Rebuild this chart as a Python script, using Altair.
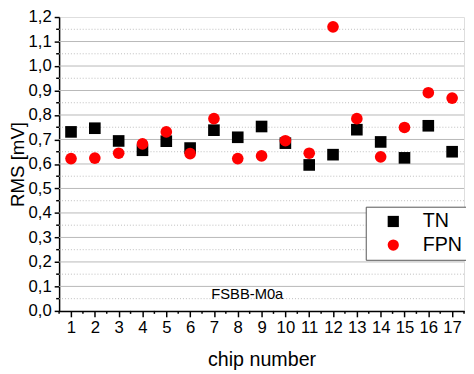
import altair as alt
import pandas as pd

chips = list(range(1, 18))
tn = [0.731, 0.746, 0.694, 0.656, 0.693, 0.665, 0.738, 0.709, 0.753, 0.685,
      0.596, 0.638, 0.740, 0.690, 0.625, 0.756, 0.650]
fpn = [0.622, 0.624, 0.644, 0.682, 0.731, 0.642, 0.785, 0.622, 0.633, 0.695,
       0.644, 1.160, 0.785, 0.629, 0.749, 0.891, 0.869]
series = ["TN", "FPN"]
x_minor = [0.5, 1.5, 2.5, 3.5, 4.5, 5.5, 6.5, 7.5, 8.5, 9.5, 10.5, 11.5, 12.5,
           13.5, 14.5, 15.5, 16.5, 17.5]
y_major = [0.0, 0.1, 0.2, 0.3, 0.4, 0.5, 0.6, 0.7, 0.8, 0.9, 1.0, 1.1, 1.2]
y_minor = [0.05, 0.15, 0.25, 0.35, 0.45, 0.55, 0.65, 0.75, 0.85, 0.95, 1.05, 1.15]
y_grid = [0.1, 0.2, 0.3, 0.4, 0.5, 0.6, 0.7, 0.8, 0.9, 1.0, 1.1]
annotation = "FSBB-M0a"

W, H = 412, 299
FONT = "Liberation Sans"

df = pd.DataFrame({
    "chip": chips + chips,
    "rms": tn + fpn,
    "series": ["TN"] * len(chips) + ["FPN"] * len(chips),
})

xscale = alt.Scale(domain=[0.5, 17.5], nice=False, zero=False)
yscale = alt.Scale(domain=[0, 1.2], nice=False)

xaxis = alt.Axis(
    values=chips, tickCount=100, format="d",
    labelOverlap=False, tickSize=6, grid=False,
    labelFontSize=17, titleFontSize=20, labelPadding=3,
    titleFontWeight="normal", titleY=56, titleBaseline="alphabetic",
    domainColor="#000", domainWidth=1.5, tickColor="#000", tickWidth=1.5,
    labelColor="#000", titleColor="#000", labelFont=FONT, titleFont=FONT,
)
yaxis = alt.Axis(
    values=y_major, tickCount=100,
    labelExpr="replace(format(datum.value, '.1f'), '.', ',')",
    labelOverlap=False, tickSize=5, grid=False,
    labelFontSize=17, titleFontSize=19, labelPadding=3,
    titleFontWeight="normal", titleX=-36, titleBaseline="alphabetic",
    domainColor="#000", domainWidth=1.5, tickColor="#000", tickWidth=1.5,
    labelColor="#000", titleColor="#000", labelFont=FONT, titleFont=FONT,
)
XT, YT = "chip number", "RMS [mV]"

grid_major = alt.Chart(pd.DataFrame({"v": y_grid})).mark_rule(
    color="#b8b8b8", strokeWidth=1
).encode(y=alt.Y("v:Q", scale=yscale, axis=yaxis, title=YT))

grid_minor = alt.Chart(pd.DataFrame({"v": y_minor})).mark_rule(
    color="#bdbdbd", strokeWidth=1, strokeDash=[1, 2]
).encode(y=alt.Y("v:Q", scale=yscale, axis=yaxis, title=YT))

ytick_minor = alt.Chart(pd.DataFrame({"v": y_minor})).mark_rule(
    color="#000", strokeWidth=1.5
).encode(y=alt.Y("v:Q", scale=yscale, axis=yaxis, title=YT),
         x=alt.value(0), x2=alt.value(-3))

xtick_minor = alt.Chart(pd.DataFrame({"v": x_minor})).mark_rule(
    color="#000", strokeWidth=1.5
).encode(x=alt.X("v:Q", scale=xscale, axis=xaxis, title=XT),
         y=alt.value(H), y2=alt.value(H + 3))

legend = alt.Legend(
    title=None, orient="none", legendX=312, legendY=193,
    fillColor="white", strokeColor="#555", padding=5,
    symbolOffset=13, labelOffset=20, labelFontSize=20,
    symbolSize=130, rowPadding=4, labelFont=FONT, labelColor="#000",
)

points = alt.Chart(df).mark_point(filled=True, opacity=1, size=140).encode(
    x=alt.X("chip:Q", scale=xscale, axis=xaxis, title=XT),
    y=alt.Y("rms:Q", scale=yscale, axis=yaxis, title=YT),
    color=alt.Color("series:N",
                    scale=alt.Scale(domain=series, range=["#000000", "#ff0000"]),
                    legend=legend),
    shape=alt.Shape("series:N",
                    scale=alt.Scale(domain=series, range=["square", "circle"]),
                    legend=legend),
    order=alt.Order("series_order:Q"),
).transform_calculate(series_order="datum.series == 'TN' ? 0 : 1")

label = alt.Chart(pd.DataFrame({"text": [annotation]})).mark_text(
    font=FONT, fontSize=15, color="#000", align="center", baseline="alphabetic"
).encode(x=alt.datum(8.40), y=alt.datum(0.048), text="text:N")

chart = alt.layer(grid_minor, grid_major, ytick_minor, xtick_minor, points, label).properties(
    width=W, height=H,
    padding={"left": 52, "top": 6, "right": 2, "bottom": 61},
    autosize=alt.AutoSizeParams(type="none"),
).configure_view(stroke=None).configure(font=FONT)

chart.save("out.html", embed_options={"renderer": "svg", "actions": False})
